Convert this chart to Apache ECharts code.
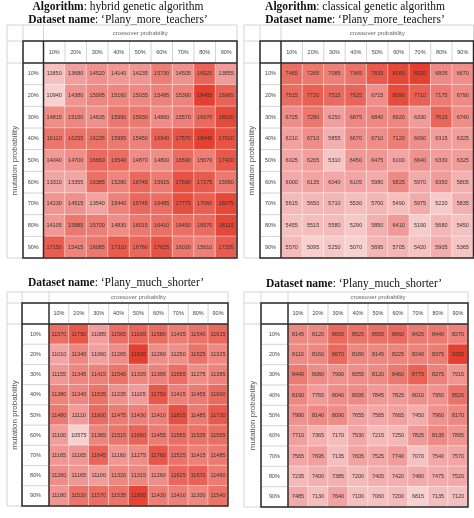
<!DOCTYPE html>
<html>
<head>
<meta charset="utf-8">
<script src="https://cdn.jsdelivr.net/npm/echarts@6/dist/echarts.min.js"></script>
<style>
  html, body { margin: 0; padding: 0; background: #fff; }
  #chart { width: 474px; height: 518px; }
</style>
</head>
<body>
<div id="chart"></div>
<script>
const crossoverLabels = ['10%', '20%', '30%', '40%', '50%', '60%', '70%', '80%', '90%'];
const mutationLabels = ['10%', '20%', '30%', '40%', '50%', '60%', '70%', '80%', '90%'];

// rows = mutation probability, columns = crossover probability
const hybridMoreTeachers = [
    [11850, 13680, 14520, 14140, 14235, 15730, 14505, 16925, 13855],
    [10940, 14380, 15095, 15160, 15035, 15495, 15390, 18465, 16965],
    [14815, 15150, 14635, 15990, 15930, 14860, 15570, 16670, 18020],
    [16110, 16255, 16235, 15995, 15450, 16940, 17570, 18445, 17620],
    [14040, 14700, 16660, 16540, 14870, 14800, 16590, 15670, 17420],
    [13310, 13355, 16385, 15280, 16745, 15915, 17690, 17275, 15950],
    [14230, 14515, 13540, 15440, 16745, 16485, 17775, 17060, 18075],
    [14105, 15985, 15700, 14830, 16015, 16410, 16450, 16570, 18115],
    [17150, 15415, 16085, 17310, 16780, 17625, 16030, 15610, 17205]
];
const classicalMoreTeachers = [
    [7465, 7265, 7085, 7345, 7835, 8165, 8320, 6805, 6670],
    [7515, 7720, 7515, 7625, 6715, 8090, 7710, 7175, 6790],
    [6725, 7280, 6250, 6875, 6840, 6920, 6330, 7615, 6740],
    [6210, 6710, 5855, 6670, 6710, 7120, 6690, 6315, 6325],
    [6025, 6265, 5310, 6450, 6475, 6100, 6640, 6330, 6325],
    [6000, 6135, 6040, 6105, 5980, 6825, 5970, 6350, 5805],
    [5615, 5650, 5710, 5530, 5700, 5490, 5975, 5220, 5835],
    [5455, 5515, 5580, 5290, 5850, 6410, 5190, 5680, 5450],
    [5570, 5095, 5250, 5070, 5695, 5705, 5420, 5905, 5365]
];
const hybridMuchShorter = [
    [11570, 11750, 11085, 11565, 11635, 11580, 11435, 11540, 11615],
    [11010, 11340, 11060, 11265, 11935, 11260, 11250, 11525, 11325],
    [11155, 11345, 11415, 11540, 11335, 11395, 11565, 11275, 11385],
    [11380, 11340, 11535, 11235, 11105, 11750, 11415, 11455, 11600],
    [11480, 11110, 11600, 11475, 11430, 11410, 11815, 11485, 11730],
    [11100, 10575, 11365, 11515, 11660, 11455, 11565, 11535, 11565],
    [11165, 11165, 11645, 11160, 11275, 11760, 11525, 11415, 11485],
    [11260, 11165, 11100, 11320, 11315, 11260, 11625, 11670, 11460],
    [11180, 11520, 11570, 11535, 11895, 11430, 11410, 11330, 11540]
];
const classicalMuchShorter = [
    [8145, 8120, 8665, 8525, 8565, 8660, 8425, 8440, 8270],
    [8110, 8160, 8670, 8180, 8145, 8225, 8240, 8375, 9255],
    [8440, 8080, 7990, 8055, 8120, 8460, 8775, 8275, 7915],
    [8190, 7765, 8040, 8095, 7845, 7825, 8010, 7950, 8520],
    [7980, 8140, 8090, 7655, 7565, 7665, 7450, 7960, 8170],
    [7710, 7365, 7170, 7530, 7215, 7250, 7825, 8135, 7895],
    [7565, 7695, 7135, 7605, 7525, 7740, 7070, 7540, 7570],
    [7235, 7400, 7385, 7200, 7405, 7420, 7480, 7475, 7520],
    [7485, 7130, 7640, 7100, 7060, 7200, 6815, 7135, 7120]
];

const panelTitles = [
    '{b|Algorithm}: hybrid genetic algorithm\n{b|Dataset name}: \u2018Plany_more_teachers\u2019',
    '{b|Algorithm}: classical genetic algorithm\n{b|Dataset name}: \u2018Plany_more_teachers\u2019',
    '{b|Dataset name}: \u2018Plany_much_shorter\u2019',
    '{b|Dataset name}: \u2018Plany_much_shorter\u2019'
];

// table layout: x0 outer left, xa label column, xb data left, xe right,
// y0 outer top, ya header row, yb data top, ye bottom
const panels = [
    { values: hybridMoreTeachers, title: panelTitles[0], tx: 118, ty: 13.5,
      x0: 7, xa: 23, xb: 43.5, xe: 237, y0: 25, ya: 41, yb: 63, ye: 258 },
    { values: classicalMoreTeachers, title: panelTitles[1], tx: 355, ty: 13.5,
      x0: 244, xa: 260, xb: 281, xe: 473.5, y0: 25, ya: 41, yb: 63, ye: 258 },
    { values: hybridMuchShorter, title: panelTitles[2], tx: 116, ty: 283,
      x0: 7, xa: 22, xb: 49, xe: 228, y0: 292, ya: 303, yb: 324, ye: 506 },
    { values: classicalMuchShorter, title: panelTitles[3], tx: 354, ty: 284,
      x0: 244, xa: 261, xb: 288, xe: 468, y0: 292, ya: 303, yb: 324, ye: 507 }
];

const lightLine = { stroke: '#d4d4d4', lineWidth: 1 };
const darkLine = { stroke: '#2b2b2b', lineWidth: 1.5 };

function line(x1, y1, x2, y2, style) {
    return { type: 'line', silent: true, shape: { x1, y1, x2, y2 }, style, z: 10 };
}

const grid = [], xAxis = [], yAxis = [], visualMap = [], series = [], graphic = [];

panels.forEach((p, i) => {
    const data = [];
    let min = Infinity, max = -Infinity;
    p.values.forEach((row, r) => {
        row.forEach((v, c) => {
            data.push([c, r, v]);
            min = Math.min(min, v);
            max = Math.max(max, v);
        });
    });

    grid.push({ left: p.xb, top: p.yb, width: p.xe - p.xb, height: p.ye - p.yb });

    xAxis.push({
        type: 'category', gridIndex: i, position: 'top', data: crossoverLabels,
        axisLine: { show: false }, axisTick: { show: false }, splitLine: { show: false },
        axisLabel: { fontSize: 5.5, color: '#444', fontFamily: 'Liberation Sans',
                     verticalAlign: 'middle', margin: (p.yb - p.ya) / 2 }
    });
    yAxis.push({
        type: 'category', gridIndex: i, inverse: true, data: mutationLabels,
        axisLine: { show: false }, axisTick: { show: false }, splitLine: { show: false },
        axisLabel: { fontSize: 5.5, color: '#444', fontFamily: 'Liberation Sans',
                     align: 'center', margin: (p.xb - p.xa) / 2 }
    });

    visualMap.push({
        show: false, seriesIndex: i, min: min, max: max,
        inRange: { color: ['#f7d0d0', '#f2a3a2', '#ec7a70', '#e5402f'] }
    });

    series.push({
        type: 'heatmap', xAxisIndex: i, yAxisIndex: i, data: data,
        itemStyle: { borderColor: 'rgba(255,255,255,0.45)', borderWidth: 1 },
        label: { show: true, fontSize: 5.5, color: '#333', fontFamily: 'Liberation Sans',
                 formatter: (d) => d.value[2] }
    });

    // title
    graphic.push({
        type: 'text', x: p.tx, y: p.ty, silent: true,
        style: {
            text: p.title, align: 'center', verticalAlign: 'middle',
            fontFamily: 'Liberation Serif', fontSize: 11.5, lineHeight: 13, fill: '#111',
            rich: { b: { fontWeight: 'bold', fontFamily: 'Liberation Serif', fontSize: 11.5, lineHeight: 13 } }
        }
    });

    // axis names
    graphic.push({
        type: 'text', x: (p.xb + p.xe) / 2, y: (p.y0 + p.ya) / 2, silent: true,
        style: { text: 'crossover probability', align: 'center', verticalAlign: 'middle',
                 fontSize: 6, fill: '#666', fontFamily: 'Liberation Sans' }
    });
    graphic.push({
        type: 'text', x: (p.x0 + p.xa) / 2, y: (p.yb + p.ye) / 2, rotation: Math.PI / 2, silent: true,
        style: { text: 'mutation probability', align: 'center', verticalAlign: 'middle',
                 fontSize: 8, fill: '#555', fontFamily: 'Liberation Sans' }
    });

    // light table lines
    graphic.push({
        type: 'rect', silent: true, z: 9,
        shape: { x: p.x0, y: p.y0, width: p.xe - p.x0, height: p.ye - p.y0 },
        style: { fill: null, stroke: '#d4d4d4', lineWidth: 1 }
    });
    graphic.push(line(p.xa, p.y0, p.xa, p.ye, lightLine));
    graphic.push(line(p.xb, p.y0, p.xb, p.ya, lightLine));
    graphic.push(line(p.x0, p.ya, p.xe, p.ya, lightLine));
    graphic.push(line(p.x0, p.yb, p.xa, p.yb, lightLine));
    const cw = (p.xe - p.xb) / 9, rh = (p.ye - p.yb) / 9;
    for (let k = 1; k < 9; k++) {
        graphic.push(line(p.xb + k * cw, p.ya, p.xb + k * cw, p.yb, lightLine));
        graphic.push(line(p.xa, p.yb + k * rh, p.xb, p.yb + k * rh, lightLine));
    }

    // dark borders
    graphic.push({
        type: 'rect', silent: true, z: 11,
        shape: { x: p.xa, y: p.ya, width: p.xe - p.xa, height: p.ye - p.ya },
        style: { fill: null, stroke: '#2b2b2b', lineWidth: 1.5 }
    });
    graphic.push(line(p.xa, p.yb, p.xe, p.yb, darkLine));
    graphic.push(line(p.xb, p.ya, p.xb, p.ye, darkLine));
});

const chart = echarts.init(document.getElementById('chart'));
chart.setOption({
    animation: false,
    grid: grid,
    xAxis: xAxis,
    yAxis: yAxis,
    visualMap: visualMap,
    series: series,
    graphic: graphic
});
</script>
</body>
</html>
